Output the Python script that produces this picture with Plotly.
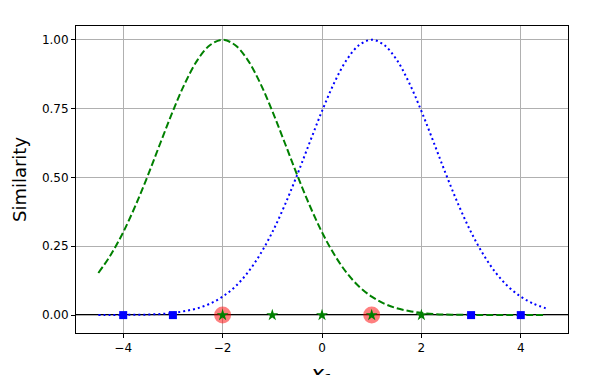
import plotly.graph_objects as go

# curve sample points
x_curve = [-4.5 + 0.25 * i for i in range(37)]
green_sim = [0.153, 0.219, 0.301, 0.399, 0.509, 0.626, 0.741, 0.845, 0.928, 0.981,
             1.000, 0.981, 0.928, 0.845, 0.741, 0.626, 0.509, 0.399, 0.301, 0.219,
             0.153, 0.103, 0.067, 0.042, 0.025, 0.015, 0.008, 0.004, 0.002, 0.001,
             0.001, 0.000, 0.000, 0.000, 0.000, 0.000, 0.000]
blue_sim = [0.000, 0.000, 0.001, 0.001, 0.002, 0.004, 0.008, 0.015, 0.025, 0.042,
            0.067, 0.103, 0.153, 0.219, 0.301, 0.399, 0.509, 0.626, 0.741, 0.845,
            0.928, 0.981, 1.000, 0.981, 0.928, 0.845, 0.741, 0.626, 0.509, 0.399,
            0.301, 0.219, 0.153, 0.103, 0.067, 0.042, 0.025]

blue_pts_x = [-4, -3, 3, 4]
green_pts_x = [-2, -1, 0, 1, 2]
landmarks_x = [-2, 1]

fig = go.Figure()
fig.add_shape(type="line", xref="paper", yref="y", x0=0, x1=1, y0=0, y1=0,
              line=dict(color="black", width=2), layer="below")
fig.add_trace(go.Scatter(x=x_curve, y=green_sim, mode="lines", line_shape="spline",
                         line=dict(color="green", width=2, dash="7px,3px")))
fig.add_trace(go.Scatter(x=x_curve, y=blue_sim, mode="lines", line_shape="spline",
                         line=dict(color="blue", width=2, dash="2px,3px")))
fig.add_trace(go.Scatter(x=landmarks_x, y=[0] * len(landmarks_x), mode="markers",
                         marker=dict(color="red", size=17, opacity=0.5, line=dict(width=0))))
fig.add_trace(go.Scatter(x=blue_pts_x, y=[0] * len(blue_pts_x), mode="markers",
                         marker=dict(color="blue", symbol="square", size=8, line=dict(width=0))))
fig.add_trace(go.Scatter(x=green_pts_x, y=[0] * len(green_pts_x), mode="markers",
                         marker=dict(color="green", symbol="star", size=9, line=dict(width=0))))

axis_common = dict(showline=True, mirror=True, linecolor="black", linewidth=1,
                   ticks="outside", ticklen=4, tickcolor="black",
                   showgrid=True, gridcolor="#b0b0b0", gridwidth=1, zeroline=False,
                   tickfont=dict(family="DejaVu Sans", size=12, color="black"))
fig.update_xaxes(range=[-4.95, 4.95], tickvals=[-4, -2, 0, 2, 4],
                 ticktext=["\u22124", "\u22122", "0", "2", "4"], **axis_common)
fig.update_yaxes(range=[-0.065, 1.05], tickvals=[0, 0.25, 0.5, 0.75, 1.0],
                 ticktext=["0.00", "0.25", "0.50", "0.75", "1.00"],
                 title=dict(text="Similarity", font=dict(family="DejaVu Sans", size=18, color="black"),
                            standoff=10), **axis_common)
fig.add_annotation(text="<i>x</i><sub>1</sub>", xref="paper", yref="paper", x=0.5, y=-0.084,
                   xanchor="center", yanchor="top", showarrow=False,
                   font=dict(family="DejaVu Sans", size=22, color="black"))
fig.update_layout(width=597, height=375, showlegend=False,
                  margin=dict(l=76, r=29, t=26, b=42),
                  plot_bgcolor="white", paper_bgcolor="white")
fig.write_html("out.html")
